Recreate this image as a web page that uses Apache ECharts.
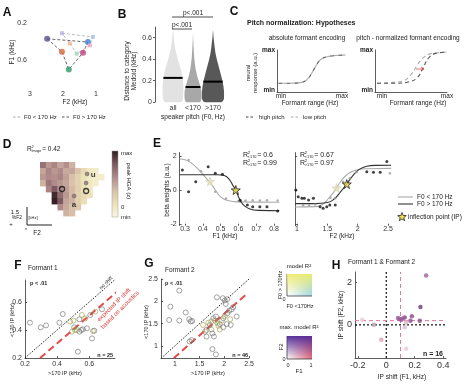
<!DOCTYPE html>
<html><head><meta charset="utf-8">
<script src="https://cdn.jsdelivr.net/npm/echarts@6/dist/echarts.min.js"></script>
<style>html,body{margin:0;padding:0;background:#fff}#c{width:474px;height:389px}</style>
</head><body><div id="c"></div>
<script>
const FONT = '"Liberation Sans", Arial, sans-serif';

// ---------- Panel A: vowel space ----------
const aHighPts = [[2.48,0.37],[2.03,0.51],[1.82,0.70],[1.39,0.52],[1.24,0.405]];
const aHighColors = ['#5b4d8f','#d4683c','#2e9a6c','#c2457c','#3d7fd2'];
const aLowPts = [[2.03,0.31],[1.09,0.35],[1.18,0.44],[1.58,0.53],[1.79,0.42]];
const aLowColors = ['#b9b0e2','#a7bfe9','#e7a6c4','#9fd6ba','#eab394'];

// ---------- Panel B: violins ----------
const bCats = ['all','<170','>170'];
const bX = [1,2,3];
const bLevels = [0,0.03,0.1,0.15,0.2,0.25,0.3,0.35,0.4,0.45,0.5,0.55,0.6,0.65,0.68];
const bWidthAll  = [0.42,0.5,0.52,0.52,0.5,0.46,0.4,0.32,0.24,0.17,0.11,0.07,0.04,0.015,0];
const bWidthLow  = [0.36,0.42,0.42,0.36,0.28,0.2,0.14,0.1,0.07,0.05,0.035,0.02,0.008,0,0];
const bWidthHigh = [0.45,0.55,0.55,0.52,0.47,0.4,0.33,0.26,0.19,0.13,0.09,0.06,0.03,0.01,0];
const bMedians = [0.225,0.14,0.19];
const bColors = ['#e2e2e2','#a8a8a8','#585858'];

// ---------- Panel C: hypotheses ----------
const cAbsCurve = [[0.02,0.21],[0.2,0.21],[0.35,0.23],[0.43,0.3],[0.5,0.46],[0.57,0.66],[0.63,0.78],[0.72,0.84],[0.85,0.87],[0.98,0.88]];
const cNormLow  = [[0.03,0.21],[0.25,0.23],[0.4,0.27],[0.5,0.42],[0.58,0.62],[0.66,0.8],[0.75,0.9],[0.85,0.93],[1.0,0.95]];
const cNormHigh = [[0.03,0.21],[0.3,0.21],[0.46,0.24],[0.58,0.33],[0.66,0.55],[0.74,0.8],[0.84,0.92],[1.0,0.95]];

// ---------- Panel D: cortical map ----------
const dRows = [
  [0.7,0.55,0.62,0.5,0.58,0.45,null,null,null,null,null],
  [0.5,0.62,0.55,0.6,0.48,0.5,0.38,0.25,0.15,0.12,null],
  [0.55,0.6,0.58,0.62,0.52,0.4,0.3,0.2,0.12,0.1,0.1],
  [0.45,0.68,0.6,0.55,0.5,0.38,0.3,0.2,0.15,0.1,null],
  [null,0.62,0.8,0.6,0.52,0.42,0.32,0.22,0.15,null,null],
  [null,null,0.95,0.72,0.55,0.42,0.3,0.25,0.18,null,null],
  [null,null,0.98,0.8,0.5,0.45,0.32,0.22,null,null,null],
  [null,null,null,0.6,0.48,0.4,0.35,null,null,null,null],
  [null,null,null,null,0.45,0.4,null,null,null,null,null]
];
const dHeatColors = ['#fbf8e2','#ece2b8','#d8c0a8','#b08a8a','#7d5a62','#2e1a1e'];
const dDots = [[8.1,2.0],[7.93,3.5],[5.86,5.67]];
const dRings = [[3.79,4.5],[7.93,4.83]];
const dLetters = [[9.14,2.17,'u'],[5.86,7.17,'a']];

// ---------- Panel E: sigmoid fits ----------
const e1LowCurve  = [[0.27,1.82],[0.3,1.78],[0.34,1.55],[0.38,1.15],[0.41,0.8],[0.44,0.45],[0.47,0.0],[0.5,-0.4],[0.54,-0.62],[0.6,-0.7],[0.83,-0.72]];
const e1HighCurve = [[0.27,0.9],[0.48,0.9],[0.52,0.85],[0.55,0.6],[0.57,0.25],[0.585,0.0],[0.6,-0.4],[0.625,-0.85],[0.66,-1.1],[0.72,-1.2],[0.83,-1.22]];
const e1LowPts  = [[0.32,1.76],[0.39,1.1],[0.47,-0.1],[0.53,-0.5],[0.6,-0.65],[0.64,-0.62],[0.68,-0.6],[0.72,-0.62],[0.76,-0.6],[0.82,-0.62]];
const e1HighPts = [[0.285,1.18],[0.32,-0.1],[0.36,0.49],[0.43,1.37],[0.47,0.98],[0.51,0.92],[0.61,-0.6],[0.65,-0.88],[0.68,-0.98],[0.72,-0.98],[0.76,-0.98],[0.82,-1.24]];
const e1Stars = [[0.44,0.5],[0.585,0.0]];
const e2LowCurve  = [[0.97,-1.0],[1.3,-0.98],[1.42,-0.85],[1.52,-0.5],[1.6,-0.15],[1.65,0.12],[1.72,0.5],[1.82,0.9],[1.95,1.15],[2.15,1.25],[2.55,1.27]];
const e2HighCurve = [[0.97,-0.8],[1.3,-0.8],[1.5,-0.74],[1.62,-0.5],[1.72,-0.1],[1.82,0.35],[1.92,0.85],[2.02,1.2],[2.15,1.4],[2.3,1.45],[2.55,1.46]];
const e2LowPts  = [[1.1,-0.9],[1.2,-0.9],[1.3,-0.85],[1.55,-0.45],[1.63,-0.49],[1.76,0.49],[1.87,0.69],[1.98,1.04],[2.53,0.98]];
const e2HighPts = [[0.98,0.0],[1.02,-0.39],[1.08,-0.49],[1.12,-0.49],[1.19,-0.59],[1.27,-0.49],[1.38,-0.98],[1.43,-1.08],[1.49,-0.98],[1.54,-0.88],[1.63,-0.88],[2.15,1.08],[2.26,1.04],[2.37,1.04],[2.48,1.67]];
const e2Stars = [[1.65,0.12],[1.82,0.35]];

// ---------- Panel F: Formant 1 IPs ----------
const fPts = [[0.231,0.452],[0.298,0.419],[0.331,0.433],[0.414,0.452],[0.435,0.514],[0.481,0.46],[0.502,0.467],[0.538,0.476],[0.554,0.507],[0.575,0.483],[0.606,0.507],[0.6375,0.531],[0.679,0.548],[0.506,0.419],[0.523,0.4],[0.539,0.388],[0.56,0.405],[0.492,0.388],[0.585,0.412],[0.623,0.393],[0.631,0.395],[0.617,0.34],[0.529,0.245],[0.51,0.40],[0.55,0.40]];
const fOlive = [0,0,0,0,0,1,1,0,1,1,0,1,0,0,1,0,0,1,0,1,0,0,0,1,0];
const fNoShift = [[0.2,0.2],[0.76,0.76]];
const fExpected = [[0.294,0.2],[0.82,0.72]];

// ---------- Panel G: Formant 2 IPs ----------
const gPts = [[1.09,2.24],[0.91,1.88],[0.885,1.58],[1.09,1.57],[1.22,1.75],[1.29,1.6],[1.32,1.55],[1.35,1.56],[1.34,1.13],[1.3,1.1],[1.61,1.32],[1.64,1.36],[1.68,1.52],[1.71,1.47],[1.74,1.55],[1.78,1.62],[1.81,1.57],[1.83,1.66],[1.85,2.09],[1.97,2.07],[2.01,2.02],[2.06,2.05],[2.03,1.94],[1.74,1.37],[1.76,1.28],[1.79,1.21],[1.76,0.93],[1.83,0.81],[1.88,1.45],[1.91,1.49],[1.95,1.57],[1.98,1.62],[2.01,1.67],[2.06,1.73],[2.1,1.79],[2.15,1.82],[2.12,1.6],[2.13,1.47],[2.25,1.66],[2.18,1.87],[1.91,1.37],[1.98,1.42],[1.64,1.21],[1.57,1.47],[2.05,1.49],[1.86,1.51]];
const gOlive = [0,0,0,0,0,0,0,0,0,0,1,0,1,0,1,0,1,0,0,0,0,0,0,1,0,0,0,0,1,0,1,0,1,0,0,0,1,0,0,0,1,0,0,1,0,1];
const gNoShift = [[0.72,0.72],[2.5,2.5]];
const gExpected = [[0.98,0.73],[2.48,2.19]];

// ---------- Panel H: joint shifts ----------
const hPts = [[0.28,2.33],[0.24,0.84],[0.235,0.19],[0.18,0.40],[0.17,0.19],[0.13,0.35],[0.106,0.24],[0.094,0.28],[0.082,0.32],[0.115,0.30],[0.14,0.11],[0.13,-0.11],[0.14,-1.13],[-0.035,-0.71],[-0.087,0.0],[-0.17,0.24]];
const hColors = ['#a0609c','#6a3878','#8a4a8a','#8a4a8a','#8a4a8a','#8a4a8a','#9a5a9a','#9a5a9a','#9a5a9a','#9a5a9a','#d8b0c8','#d8c0d0','#e8c8d8','#e0a0b8','#b0a0b0','#e8c8d8'];
const hZeroX = 0, hZeroY = 0, hShiftX = 0.1, hShiftY = 0.2;

const STAR = 'path://M50,0 L61,35 L98,35 L68,57 L79,91 L50,70 L21,91 L32,57 L2,35 L39,35 Z';

// ---------- helpers ----------
function ax(gi, min, max, o) {
  o = o || {};
  return {
    gridIndex: gi, type: 'value', min: min, max: max, inverse: !!o.inverse,
    splitLine: {show: false},
    axisLine: {show: o.line !== false, onZero: false, lineStyle: {color: '#333', width: 0.8}},
    axisTick: {show: o.tick !== false && !!o.vals, inside: !!o.inside, length: 2, lineStyle: {color: '#333', width: 0.8}, customValues: o.vals},
    axisLabel: {show: !!o.vals && o.labels !== false, fontSize: o.fs || 7, color: '#333', margin: (o.margin !== undefined ? o.margin : 3), fontFamily: FONT, customValues: o.vals, formatter: o.fmt}
  };
}
const G = [];
function T(x, y, text, o) {
  o = o || {};
  G.push({type: 'text', x: x, y: y, rotation: o.rot || 0, z: 100, silent: true,
    style: {text: text, fill: o.color || '#222', fontSize: o.size || 6.5, fontFamily: FONT,
      fontWeight: o.bold ? 'bold' : 'normal', align: o.align || 'center', verticalAlign: 'middle',
      textAlign: o.align || 'center', textVerticalAlign: 'middle'}});
}
function L(x1, y1, x2, y2, o) {
  o = o || {};
  G.push({type: 'line', z: 100, silent: true, shape: {x1: x1, y1: y1, x2: x2, y2: y2},
    style: {stroke: o.color || '#222', lineWidth: o.w || 0.8, lineDash: o.dash || null}});
}
function R2(x, y, sub, val, size) {
  size = size || 7;
  T(x, y, 'R', {align: 'left', size: size});
  T(x + size * 0.68, y - 2.3, '2', {align: 'left', size: size * 0.6});
  T(x + size * 0.68, y + 2.3, sub, {align: 'left', size: size * 0.55});
  T(x + size * 0.68 + sub.length * size * 0.3 + 1, y, '= ' + val, {align: 'left', size: size});
}
function starPts(cx, cy, r1, r2) {
  const p = [];
  for (let k = 0; k < 10; k++) {
    const ang = -Math.PI / 2 + k * Math.PI / 5, r = k % 2 ? r2 : r1;
    p.push([cx + r * Math.cos(ang), cy + r * Math.sin(ang)]);
  }
  return p;
}

const grids = [
  {left: 30, top: 23, width: 79, height: 65},      // 0 A
  {left: 155, top: 27, width: 70, height: 75},     // 1 B
  {left: 277, top: 50, width: 70, height: 42},     // 2 C1
  {left: 375, top: 50, width: 72, height: 42},     // 3 C2
  {left: 40, top: 162, width: 64, height: 54},     // 4 D
  {left: 179.7, top: 152.6, width: 99.7, height: 73.1}, // 5 E1
  {left: 295.2, top: 152.6, width: 95.9, height: 73.1}, // 6 E2
  {left: 25, top: 280, width: 90, height: 78},     // 7 F
  {left: 161, top: 279, width: 88, height: 79},    // 8 G
  {left: 355, top: 272, width: 91, height: 86}     // 9 H
];

const xAxes = [
  ax(0, 0.6, 3, {inverse: true, vals: [3,2,1], line: false, tick: false}),
  ax(1, 0.1, 3.6, {vals: bX, line: false, tick: false, fmt: v => bCats[Math.round(v) - 1]}),
  ax(2, 0, 1, {tick: false}),
  ax(3, 0, 1, {tick: false}),
  ax(4, 0, 11, {line: false}),
  ax(5, 0.27, 0.83, {vals: [0.3,0.4,0.5,0.6,0.7,0.8], line: false, inside: true, margin: 0}),
  ax(6, 0.97, 2.55, {vals: [1,1.5,2,2.5], line: false, inside: true, margin: 0}),
  ax(7, 0.2, 0.76, {vals: [0.2,0.4,0.6], inside: true}),
  ax(8, 0.72, 2.5, {vals: [1,1.5,2,2.5], inside: true}),
  ax(9, -0.22, 0.42, {vals: [-0.2,0,0.2,0.4], fs: 9, inside: true})
];
const yAxes = [
  ax(0, 0.2, 0.9, {inverse: true, vals: [0.2,0.6], line: false, tick: false}),
  ax(1, 0, 0.7, {vals: [0,0.2,0.4,0.6]}),
  ax(2, 0, 1, {tick: false}),
  ax(3, 0, 1, {tick: false}),
  ax(4, 0, 9, {inverse: true, line: false}),
  ax(5, -2.1, 2.2, {vals: [-2,0,2], inside: true}),
  ax(6, -2.1, 2.2, {vals: [-2,0,2], labels: false, inside: true}),
  ax(7, 0.2, 0.757, {vals: [0.2,0.4,0.6], inside: true}),
  ax(8, 0.73, 2.5, {vals: [1,1.5,2,2.5], inside: true}),
  ax(9, -1.57, 2.5, {vals: [0,2], fs: 9, inside: true})
];

const series = [];
function S(o) { series.push(o); return series.length - 1; }
function line(gi, data, color, width, dash, extra) {
  return S(Object.assign({type: 'line', xAxisIndex: gi, yAxisIndex: gi, data: data, symbol: 'none', silent: true,
    lineStyle: {color: color, width: width, type: dash || 'solid'}, z: 3}, extra || {}));
}
function pts(gi, data, o) {
  return S(Object.assign({type: 'scatter', xAxisIndex: gi, yAxisIndex: gi, data: data, silent: true, z: 4}, o));
}

// A
line(0, aHighPts.concat([aHighPts[0]]), '#666', 1, [3,2]);
line(0, aLowPts.concat([aLowPts[0]]), '#bbb', 1, [3,2]);
pts(0, aHighPts.map((p, i) => ({value: p, itemStyle: {color: aHighColors[i]}})), {symbolSize: 6});
pts(0, aLowPts.map((p, i) => ({value: p, itemStyle: {color: aLowColors[i]}})), {symbolSize: 4, symbol: 'rect'});

// B violins
const bWidths = [bWidthAll, bWidthLow, bWidthHigh];
function interp(xs, ys, x) {
  for (let k = 0; k < xs.length - 1; k++) {
    if (x >= xs[k] && x <= xs[k+1]) { const t = (x - xs[k]) / (xs[k+1] - xs[k]); return ys[k] + t * (ys[k+1] - ys[k]); }
  }
  return 0;
}
S({type: 'custom', xAxisIndex: 1, yAxisIndex: 1, silent: true,
  data: bX.map((x, i) => [x, bMedians[i]]),
  renderItem: function (params, api) {
    const i = params.dataIndex, cx = api.value(0), hw = bWidths[i];
    const left = [], right = [];
    bLevels.forEach((l, k) => { left.push(api.coord([cx - hw[k], l])); right.push(api.coord([cx + hw[k], l])); });
    const poly = left.concat(right.reverse());
    const med = api.value(1), w = interp(bLevels, hw, med);
    const a = api.coord([cx - w, med]), b = api.coord([cx + w, med]);
    return {type: 'group', children: [
      {type: 'polygon', shape: {points: poly, smooth: 0.15}, style: {fill: bColors[i]}},
      {type: 'line', shape: {x1: a[0], y1: a[1], x2: b[0], y2: b[1]}, style: {stroke: '#000', lineWidth: 2}}
    ]};
  }});

// C
line(2, cAbsCurve, '#555', 1.1, [4,4], {smooth: true});
line(2, cAbsCurve, '#aaa', 1.1, [4,4], {smooth: true, lineStyle: {color: '#aaa', width: 1.1, type: [4,4], dashOffset: 4}});
line(3, cNormLow, '#aaa', 1.1, [4,3], {smooth: true});
line(3, cNormHigh, '#555', 1.1, [4,3], {smooth: true});

// D heatmap (custom cells)
const dData = [];
dRows.forEach((row, r) => row.forEach((v, c) => { if (v !== null) dData.push([c, r, v]); }));
const dIdx = S({type: 'custom', xAxisIndex: 4, yAxisIndex: 4, silent: true, data: dData,
  encode: {x: 0, y: 1},
  renderItem: function (params, api) {
    const c = api.value(0), r = api.value(1);
    const p0 = api.coord([c, r]), p1 = api.coord([c + 1, r + 1]);
    return {type: 'rect', shape: {x: Math.min(p0[0], p1[0]), y: Math.min(p0[1], p1[1]),
      width: Math.abs(p1[0] - p0[0]) + 0.4, height: Math.abs(p1[1] - p0[1]) + 0.4},
      style: {fill: api.visual('color')}};
  }});
pts(4, dDots, {symbolSize: 4, itemStyle: {color: '#8c7078', borderColor: '#555', borderWidth: 0.5}, z: 6});
pts(4, dRings, {symbolSize: 5, itemStyle: {color: 'rgba(0,0,0,0)', borderColor: '#111', borderWidth: 1.3}, z: 6});
pts(4, dLetters.map(d => ({value: [d[0], d[1]], name: d[2]})), {symbolSize: 0, z: 7,
  label: {show: true, position: 'inside', formatter: p => p.name, fontSize: 8, fontWeight: 'bold', color: '#111', fontFamily: FONT}});

// E
line(5, e1LowCurve, '#aaa', 1.1, 'solid', {smooth: true});
line(5, e1HighCurve, '#333', 1.1, 'solid', {smooth: true});
pts(5, e1LowPts, {symbolSize: 2.5, itemStyle: {color: '#9a9a9a'}});
pts(5, e1HighPts, {symbolSize: 3, itemStyle: {color: '#111'}});
pts(5, e1Stars.map((p, i) => ({value: p, itemStyle: i ? {color: '#f4e04a', borderColor: '#222', borderWidth: 1} : {color: '#e6e0b0', borderColor: '#d0d0c0', borderWidth: 0.8}})), {symbol: STAR, symbolSize: 9, z: 6});
line(6, e2LowCurve, '#aaa', 1.1, 'solid', {smooth: true});
line(6, e2HighCurve, '#333', 1.1, 'solid', {smooth: true});
pts(6, e2LowPts, {symbolSize: 2.5, itemStyle: {color: '#9a9a9a'}});
pts(6, e2HighPts, {symbolSize: 3, itemStyle: {color: '#111'}});
pts(6, e2Stars.map((p, i) => ({value: p, itemStyle: i ? {color: '#f4e04a', borderColor: '#222', borderWidth: 1} : {color: '#e6e0b0', borderColor: '#d0d0c0', borderWidth: 0.8}})), {symbol: STAR, symbolSize: 9, z: 6});

// F
line(7, fNoShift, '#222', 1, [1.5,1.5]);
line(7, fExpected, '#e34b4b', 2, [7,4], {clip: false});
pts(7, fPts.map((p, i) => ({value: p, itemStyle: {borderColor: fOlive[i] ? '#9c9c4a' : '#6e6e6e'}})),
  {symbolSize: 5, itemStyle: {color: 'rgba(255,255,255,0)', borderWidth: 0.8}});
// G
line(8, gNoShift, '#222', 1, [1.5,1.5]);
line(8, gExpected, '#e34b4b', 2, [7,4], {clip: false});
pts(8, gPts.map((p, i) => ({value: p, itemStyle: {borderColor: gOlive[i] ? '#9c9c4a' : '#6e6e6e'}})),
  {symbolSize: 5, itemStyle: {color: 'rgba(255,255,255,0)', borderWidth: 0.8}});
// H
line(9, [[hZeroX,-1.57],[hZeroX,2.5]], '#222', 1.3, [2,2]);
line(9, [[-0.22,hZeroY],[0.42,hZeroY]], '#222', 1.3, [2,2]);
line(9, [[hShiftX,-1.57],[hShiftX,2.5]], '#e07aa0', 1, [4,3]);
line(9, [[-0.22,hShiftY],[0.42,hShiftY]], '#e07aa0', 1, [4,3]);
pts(9, hPts.map((p, i) => ({value: p, itemStyle: {color: hColors[i]}})), {symbolSize: 4.5});

// ---------- texts & decorations ----------
[['A',7,13],['B',122,15],['C',234,12],['D',7,145],['E',157,144],['F',18,266],['G',149,264],['H',336,266]]
  .forEach(l => T(l[1], l[2], l[0], {size: 12, bold: true, color: '#111'}));

// A
T(12, 52, 'F1 (kHz)', {rot: Math.PI / 2});
T(75, 102, 'F2 (kHz)');
L(13, 117, 21, 117, {color: '#aaa', w: 1, dash: [2.5,2]}); T(24, 117, 'F0 < 170 Hz', {align: 'left', size: 6});
L(62, 117, 70, 117, {color: '#555', w: 1, dash: [2.5,2]}); T(73, 117, 'F0 > 170 Hz', {align: 'left', size: 6});

// B
T(127, 71, 'Distance to category', {rot: Math.PI / 2, size: 6.5});
T(134, 71, 'Medoid (kHz)', {rot: Math.PI / 2, size: 6.5});
T(193, 117, 'speaker pitch (F0, Hz)');
L(172, 17, 213, 17); T(193, 13, 'p<.001', {size: 6.5});
L(172, 29, 192, 29); T(182, 25, 'p<.001', {size: 6.5});

// C
T(247, 23, 'Pitch normalization: Hypotheses', {align: 'left', bold: true, size: 7});
T(307, 38, 'absolute formant encoding');
T(408, 38, 'pitch - normalized formant encoding');
T(248, 73, 'neural', {rot: Math.PI / 2, size: 6});
T(255, 73, 'response (a.u.)', {rot: Math.PI / 2, size: 6});
T(275, 50, 'max', {align: 'right', bold: true}); T(275, 90, 'min', {align: 'right', bold: true});
T(281, 96, 'min'); T(342, 96, 'max'); T(310, 103, 'Formant range (Hz)');
T(373, 50, 'max', {align: 'right', bold: true}); T(373, 90, 'min', {align: 'right', bold: true});
T(382, 96, 'min'); T(447, 96, 'max'); T(418, 103, 'Formant range (Hz)');
L(416, 69, 424, 69, {color: '#e05050', w: 0.8}); L(421, 67, 424, 69, {color: '#e05050', w: 0.8}); L(421, 71, 424, 69, {color: '#e05050', w: 0.8});
L(246, 117, 254, 117, {color: '#444', w: 1, dash: [2.5,2]}); T(259, 117, 'high pitch', {align: 'left', size: 6});
L(291, 117, 299, 117, {color: '#aaa', w: 1, dash: [2.5,2]}); T(303, 117, 'low pitch', {align: 'left', size: 6});

// D
R2(27, 149, 'Image', '0.42', 6.5);
G.push({type: 'rect', z: 100, silent: true, shape: {x: 112, y: 151, width: 6, height: 66},
  style: {stroke: '#999', lineWidth: 0.5, fill: {type: 'linear', x: 0, y: 1, x2: 0, y2: 0,
    colorStops: dHeatColors.map((c, i) => ({offset: i / (dHeatColors.length - 1), color: c}))}}});
T(121, 153, 'max', {align: 'left', size: 6}); T(121, 207, '0', {align: 'left', size: 6}); T(121, 217, 'min', {align: 'left', size: 6});
T(129, 181, 'peak HGA (z)', {rot: -Math.PI / 2, size: 6});
L(27, 207, 27, 225, {w: 1}); L(27, 225, 52, 225, {w: 1});
T(15, 212, '1.5', {size: 6}); T(17, 218, '%F2', {size: 5}); T(33, 218, '[kHz]', {size: 4});
T(11, 224, '+', {size: 6}); T(37, 233, 'F2', {size: 6.5}); T(26, 231, '*', {size: 5});

// E
T(167, 190, 'beta weights (a.u.)', {rot: Math.PI / 2});
T(225, 236, 'F1 (kHz)'); T(342, 236, 'F2 (kHz)');
R2(243, 155, '<170', '0.6'); R2(243, 163, '>170', '0.99');
R2(300, 155, '<170', '0.67'); R2(300, 163, '>170', '0.97');
L(398, 197, 413, 197, {color: '#aaa', w: 1.1}); T(417, 197, 'F0 < 170 Hz', {align: 'left'});
L(398, 204, 413, 204, {color: '#333', w: 1.1}); T(417, 204, 'F0 > 170 Hz', {align: 'left'});
G.push({type: 'polygon', z: 100, silent: true, shape: {points: starPts(402, 217, 4.5, 1.9)},
  style: {fill: '#f4e04a', stroke: '#222', lineWidth: 0.8}});
T(408, 217, 'inflection point (IP)', {align: 'left'});

// F
T(28, 268, 'Formant 1', {align: 'left'});
T(30, 283, 'p < .01', {align: 'left', size: 5.5, bold: true});
T(113, 355, 'n = 25', {align: 'right', size: 5.5, bold: true});
T(106, 283, 'no shift', {rot: Math.PI / 4, size: 5});
T(114, 305, 'expected IP shift', {rot: Math.PI / 4, size: 6, color: '#e03a3a'});
T(120, 310, 'based on acoustics', {rot: Math.PI / 4, size: 6, color: '#e03a3a'});
T(65, 373, '>170 IP (kHz)', {size: 5.5});
T(12, 320, '<170 IP (kHz)', {rot: Math.PI / 2, size: 5.5});

// G
T(165, 270, 'Formant 2', {align: 'left'});
T(165, 283, 'p < .01', {align: 'left', size: 5.5, bold: true});
T(248, 355, 'n = 46', {align: 'right', size: 5.5, bold: true});
T(208, 373, '>170 IP (kHz)', {size: 5.5});
T(146, 322, '<170 IP (kHz)', {rot: Math.PI / 2, size: 5.5});

// colour-map keys
T(299, 266, 'model R²', {size: 6});
G.push({type: 'rect', z: 100, silent: true, shape: {x: 287, y: 274, width: 25, height: 22},
  style: {fill: {type: 'linear', x: 0, y: 0, x2: 1, y2: 0, colorStops: [{offset: 0, color: '#ffffff'}, {offset: 1, color: '#9fd8e8'}]}}});
G.push({type: 'rect', z: 101, silent: true, shape: {x: 287, y: 274, width: 25, height: 22},
  style: {fill: {type: 'linear', x: 0, y: 0, x2: 0, y2: 1, colorStops: [{offset: 0, color: 'rgba(240,236,110,0.95)'}, {offset: 1, color: 'rgba(240,236,110,0)'}]}}});
L(287, 274, 287, 296, {w: 0.7}); L(287, 296, 312, 296, {w: 0.7});
T(280, 285, 'F0 > 170Hz', {rot: Math.PI / 2, size: 5.5});
T(284, 299, '0', {size: 5.5}); T(300, 306, 'F0 <170Hz', {size: 5.5});
T(299, 327, 'max. model R²', {size: 6});
G.push({type: 'rect', z: 100, silent: true, shape: {x: 287, y: 336, width: 25, height: 23},
  style: {fill: {type: 'linear', x: 0, y: 0, x2: 1, y2: 0, colorStops: [{offset: 0, color: '#ffffff'}, {offset: 1, color: '#e8707c'}]}}});
G.push({type: 'rect', z: 101, silent: true, shape: {x: 287, y: 336, width: 25, height: 23},
  style: {fill: {type: 'linear', x: 0, y: 0, x2: 0, y2: 1, colorStops: [{offset: 0, color: 'rgba(80,40,150,0.95)'}, {offset: 1, color: 'rgba(80,40,150,0)'}]}}});
L(287, 336, 287, 359, {w: 0.7}); L(287, 359, 312, 359, {w: 0.7});
T(281, 347, 'F2', {rot: Math.PI / 2, size: 6});
T(284, 359, '0', {size: 5.5}); T(288, 365, '0', {size: 5.5}); T(311, 365, '1', {size: 5.5}); T(299, 371, 'F1', {size: 6});

// H
T(348, 262, 'Formant 1 & Formant 2', {align: 'left', size: 6.5});
T(443, 354, 'n = 16', {align: 'right', size: 7, bold: true});
T(402, 377, 'IP shift (F1, kHz)');
T(341, 315, 'IP shift (F2, kHz)', {rot: Math.PI / 2});

const chart = echarts.init(document.getElementById('c'));
chart.setOption({
  animation: false,
  backgroundColor: '#fff',
  textStyle: {fontFamily: FONT},
  grid: grids,
  xAxis: xAxes,
  yAxis: yAxes,
  visualMap: [{type: 'continuous', show: false, seriesIndex: dIdx, dimension: 2, min: 0, max: 1, inRange: {color: dHeatColors}}],
  series: series,
  graphic: {elements: G}
});
</script>
</body></html>
